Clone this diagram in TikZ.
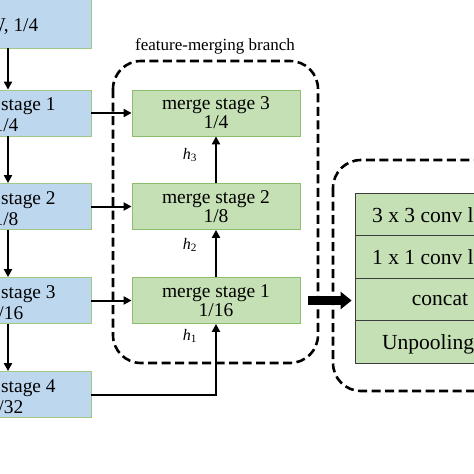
\documentclass[tikz,border=0pt]{standalone}
\usepackage{fontspec}
\setmainfont{Liberation Serif}
\usetikzlibrary{arrows.meta}
\definecolor{bluefill}{RGB}{189,215,238}
\definecolor{blueedge}{RGB}{160,200,130}
\definecolor{greenfill}{RGB}{197,224,180}
\definecolor{greenedge}{RGB}{140,190,110}
\definecolor{stackedge}{RGB}{60,60,60}
\begin{document}
\begin{tikzpicture}[x=1pt,y=-1pt,
  bluebox/.style={draw=blueedge, fill=bluefill, line width=0.8pt, minimum width=166pt, minimum height=46pt, inner sep=0pt},
  mergebox/.style={draw=greenedge, fill=greenfill, line width=0.8pt, minimum width=168pt, minimum height=46pt, inner sep=0pt, align=center, font=\fontsize{19.5}{19}\selectfont},
  stackbox/.style={draw=stackedge, fill=greenfill, line width=0.8pt, minimum width=170pt, minimum height=42.5pt, inner sep=0pt, font=\fontsize{21.5}{21.5}\selectfont},
  lbl/.style={inner sep=0pt, font=\fontsize{19.4}{19.4}\selectfont},
  stk/.style={inner sep=0pt, font=\fontsize{21.5}{21.5}\selectfont, anchor=base west},
  hlbl/.style={inner sep=0pt, font=\fontsize{16}{16}\selectfont},
  conn/.style={line width=2pt, -{Triangle[length=8pt,width=8pt]}},
  dashedbox/.style={line width=2.6pt, dash pattern=on 9pt off 4.5pt, rounded corners=28pt},
  bigarrow/.style={line width=9pt, -{Triangle[length=11pt,width=17pt]}}
]
\useasboundingbox (0,0) rectangle (474,474);
\clip (0,0) rectangle (474,474);

% backbone boxes
\node[bluebox, minimum height=49pt] (s0) at (8,23.5) {};
\node[bluebox] (s1) at (8,113) {};
\node[bluebox] (s2) at (8,206.5) {};
\node[bluebox] (s3) at (8,300.5) {};
\node[bluebox] (s4) at (8,394.5) {};

\node[lbl, anchor=base east] (t0) at (38.5,31) {W, 1/4};
\node[lbl, anchor=base west] (t1a) at (1,110) {stage 1};
\node[lbl, anchor=base] (t1b) at (6,131) {1/4};
\node[lbl, anchor=base west] (t2a) at (1,204) {stage 2};
\node[lbl, anchor=base] (t2b) at (6,225) {1/8};
\node[lbl, anchor=base west] (t3a) at (1,298) {stage 3};
\node[lbl, anchor=base] (t3b) at (6,319) {1/16};
\node[lbl, anchor=base west] (t4a) at (1,392) {stage 4};
\node[lbl, anchor=base] (t4b) at (6,413) {1/32};

% feature-merging branch
\draw[dashedbox] (113,61) rectangle (318,363);
\node[inner sep=0pt, font=\fontsize{17}{17}\selectfont] (fmb) at (215,46) {feature-merging branch};

\node[mergebox] (m3) at (216,113) {merge stage 3\\1/4};
\node[mergebox] (m2) at (216,206.5) {merge stage 2\\1/8};
\node[mergebox] (m1) at (216,300.5) {merge stage 1\\1/16};

\node[hlbl] (h3) at (190,155) {\textit{h}\textsubscript{3}};
\node[hlbl] (h2) at (190,245) {\textit{h}\textsubscript{2}};
\node[hlbl] (h1) at (190,336) {\textit{h}\textsubscript{1}};

% connectors
\draw[conn] (s0.south) -- (s1.north);
\draw[conn] (s1.south) -- (s2.north);
\draw[conn] (s2.south) -- (s3.north);
\draw[conn] (s3.south) -- (s4.north);
\draw[conn] (s1.east) -- (m3.west);
\draw[conn] (s2.east) -- (m2.west);
\draw[conn] (s3.east) -- (m1.west);
\draw[conn] (s4.east) -| (m1.south);
\draw[conn] (m1.north) -- (m2.south);
\draw[conn] (m2.north) -- (m3.south);

% output branch
\draw[dashedbox] (333,160) rectangle (560,391);
\node[stackbox] (r1) at (440,214.5) {};
\node[stackbox] (r2) at (440,257) {};
\node[stackbox] (r3) at (440,299.5) {concat};
\node[stackbox] (r4) at (440,342) {};
\node[stk] (r1t) at (372,222) {3 x 3 conv layer};
\node[stk] (r2t) at (372,264.5) {1 x 1 conv layer};
\node[stk] (r4t) at (382,349.5) {Unpooling};

\draw[bigarrow] ([xshift=8pt]m1.east) -- ([xshift=-3pt]m1.east -| r3.west);
\end{tikzpicture}
\end{document}
